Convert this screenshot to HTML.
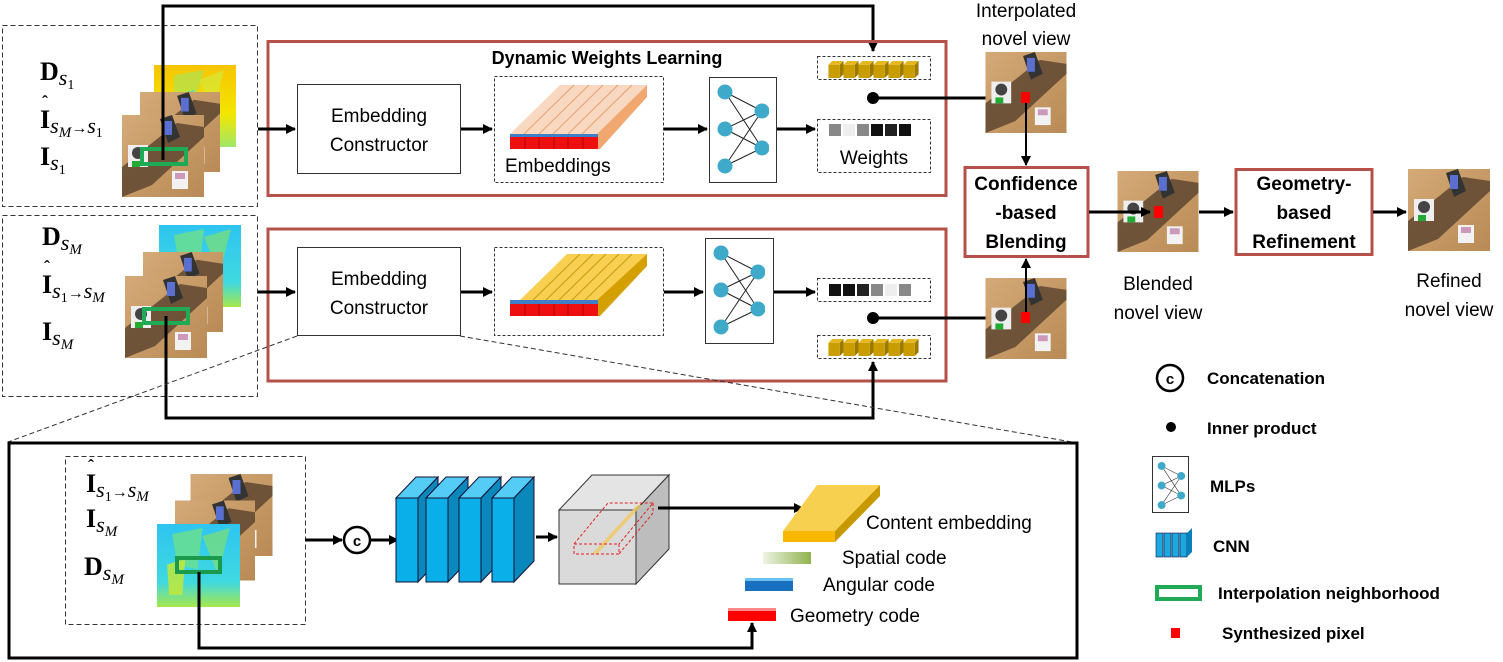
<!DOCTYPE html>
<html><head><meta charset="utf-8"><style>
html,body{margin:0;padding:0;background:#fff;}
svg{display:block;}
text{font-family:"Liberation Sans",sans-serif;}
.m text{font-family:"Liberation Serif",serif;}
</style></head><body>
<svg width="1503" height="662" viewBox="0 0 1503 662" xmlns="http://www.w3.org/2000/svg">
<defs>
<marker id="ah" markerWidth="10" markerHeight="10" refX="9" refY="5" orient="auto" markerUnits="userSpaceOnUse"><path d="M0,0 L10,5 L0,10 z" fill="#000"/></marker>
<linearGradient id="wood" x1="0" y1="0" x2="1" y2="1"><stop offset="0" stop-color="#d4aa78"/><stop offset="1" stop-color="#b98a55"/></linearGradient>
<linearGradient id="dy" x1="0" y1="0" x2="0" y2="1"><stop offset="0" stop-color="#f7c400"/><stop offset="0.6" stop-color="#f2e600"/><stop offset="1" stop-color="#9fe86a"/></linearGradient>
<linearGradient id="dc" x1="0" y1="0" x2="0" y2="1"><stop offset="0" stop-color="#2ec4f0"/><stop offset="0.7" stop-color="#3fd9e0"/><stop offset="1" stop-color="#a5e84a"/></linearGradient>
<linearGradient id="sp" x1="0" y1="0" x2="1" y2="0"><stop offset="0" stop-color="#eef4e4"/><stop offset="1" stop-color="#8fb24e"/></linearGradient>
<symbol id="photo" viewBox="0 0 82 82">
<rect width="82" height="82" fill="url(#wood)"/>
<polygon points="0,52 55,8 82,12 82,22 30,70 0,82" fill="#5e4630" opacity="0.85"/>
<polygon points="38,4 50,0 58,22 46,28" fill="#333"/>
<rect x="42" y="6" width="8" height="14" fill="#5a6fd0"/>
<rect x="6" y="30" width="20" height="22" fill="#eee"/>
<circle cx="16" cy="38" r="6" fill="#444"/>
<rect x="10" y="46" width="8" height="6" fill="#2a3"/>
<rect x="50" y="56" width="16" height="18" fill="#f2f2f2"/>
<rect x="53" y="58" width="10" height="6" fill="#c9b"/>
</symbol>
<symbol id="depthY" viewBox="0 0 82 82">
<rect width="82" height="82" fill="url(#dy)"/>
<polygon points="20,10 50,5 40,40 20,35" fill="#b8e04a" opacity="0.8"/>
<polygon points="45,15 70,5 60,45" fill="#d6e83a" opacity="0.7"/>
<polygon points="25,30 40,25 38,45" fill="#40e0d0"/>
</symbol>
<symbol id="depthC" viewBox="0 0 82 82">
<rect width="82" height="82" fill="url(#dc)"/>
<polygon points="15,10 45,4 40,45 20,40" fill="#6ee08a" opacity="0.8"/>
<polygon points="45,12 72,4 60,50" fill="#7fe070" opacity="0.7"/>
<polygon points="10,40 28,35 25,70 12,70" fill="#c8e830" opacity="0.8"/>
</symbol>
<symbol id="gcube" viewBox="0 0 16 18"><polygon points="0,4 4,0 16,0 12,4" fill="#e6b820"/><polygon points="12,4 16,0 16,14 12,18" fill="#9c7a00"/><rect x="0" y="4" width="12" height="14" fill="#c99c00"/></symbol>
<symbol id="mlp" viewBox="0 0 60 104">
<g stroke="#222" stroke-width="1" fill="none">
<line x1="16" y1="15" x2="53" y2="34"/><line x1="16" y1="15" x2="53" y2="71"/>
<line x1="16" y1="52" x2="53" y2="34"/><line x1="16" y1="52" x2="53" y2="71"/>
<line x1="16" y1="89" x2="53" y2="34"/><line x1="16" y1="89" x2="53" y2="71"/></g>
<g fill="#3fa9c9"><circle cx="16" cy="15" r="7.5"/><circle cx="16" cy="52" r="7.5"/><circle cx="16" cy="89" r="7.5"/><circle cx="53" cy="34" r="7.5"/><circle cx="53" cy="71" r="7.5"/></g>
</symbol>
</defs>

<polyline points="163,148 163,6 873,6 873,51" fill="none" stroke="#000" stroke-width="3" marker-end="url(#ah)"/>

<rect x="2.5" y="25.5" width="255" height="181" fill="none" stroke="#333" stroke-dasharray="5,3"/>
<rect x="2.5" y="215.5" width="255" height="181" fill="none" stroke="#333" stroke-dasharray="5,3"/>

<use href="#depthY" x="154" y="65" width="82" height="82"/>
<use href="#photo" x="140" y="91" width="80" height="82"/>
<use href="#photo" x="122" y="115" width="82" height="82"/>
<rect x="142" y="149" width="44" height="15" fill="none" stroke="#1faa55" stroke-width="4"/>
<line x1="163" y1="6" x2="163" y2="160" stroke="#000" stroke-width="3"/>

<use href="#depthC" x="159" y="225" width="82" height="82"/>
<use href="#photo" x="143" y="251" width="80" height="82"/>
<use href="#photo" x="125" y="276" width="82" height="82"/>
<rect x="144" y="309" width="44" height="14" fill="none" stroke="#1faa55" stroke-width="4"/>

<g class="m" font-weight="bold" font-size="26">
<text x="40" y="80">D<tspan font-weight="normal" font-style="italic" font-size="22" dy="5">s</tspan><tspan font-weight="normal" font-size="14" dy="4">1</tspan></text>
<text x="40" y="128">I<tspan font-weight="normal" font-style="italic" font-size="22" dy="5">s</tspan><tspan font-weight="normal" font-style="italic" font-size="15" dy="4">M</tspan><tspan font-weight="normal" font-size="16" dy="-4">→</tspan><tspan font-weight="normal" font-style="italic" font-size="22">s</tspan><tspan font-weight="normal" font-size="14" dy="4">1</tspan></text>
<text x="42" y="108" font-size="18">ˆ</text>
<text x="40" y="165">I<tspan font-weight="normal" font-style="italic" font-size="22" dy="5">s</tspan><tspan font-weight="normal" font-size="14" dy="4">1</tspan></text>
<text x="42" y="245">D<tspan font-weight="normal" font-style="italic" font-size="22" dy="5">s</tspan><tspan font-weight="normal" font-style="italic" font-size="15" dy="4">M</tspan></text>
<text x="42" y="293">I<tspan font-weight="normal" font-style="italic" font-size="22" dy="5">s</tspan><tspan font-weight="normal" font-size="14" dy="4">1</tspan><tspan font-weight="normal" font-size="16" dy="-4">→</tspan><tspan font-weight="normal" font-style="italic" font-size="22">s</tspan><tspan font-weight="normal" font-style="italic" font-size="15" dy="4">M</tspan></text>
<text x="44" y="273" font-size="18">ˆ</text>
<text x="42" y="340">I<tspan font-weight="normal" font-style="italic" font-size="22" dy="5">s</tspan><tspan font-weight="normal" font-style="italic" font-size="15" dy="4">M</tspan></text>
</g>

<rect x="268" y="41.5" width="678" height="154" fill="none" stroke="#b5504a" stroke-width="3"/>
<rect x="268" y="229" width="678" height="152" fill="none" stroke="#b5504a" stroke-width="3"/>
<text x="607" y="64" font-size="18" font-weight="bold" text-anchor="middle">Dynamic Weights Learning</text>

<line x1="258" y1="129" x2="295" y2="129" stroke="#000" stroke-width="3" marker-end="url(#ah)"/>
<rect x="297.5" y="84.5" width="163" height="89" fill="#fff" stroke="#333"/>
<text x="379" y="122" font-size="19" text-anchor="middle">Embedding</text>
<text x="379" y="151" font-size="19" text-anchor="middle">Constructor</text>
<line x1="461" y1="129" x2="492" y2="129" stroke="#000" stroke-width="3" marker-end="url(#ah)"/>
<rect x="494.5" y="76.5" width="169" height="106" fill="none" stroke="#333" stroke-dasharray="3,2"/>
<polygon points="510,134 597,134 647,85 560,85" fill="#f8d8c0"/>
<g stroke="#e8a070" stroke-width="1"><line x1="524" y1="134" x2="574" y2="85"/><line x1="539" y1="134" x2="589" y2="85"/><line x1="553" y1="134" x2="603" y2="85"/><line x1="568" y1="134" x2="618" y2="85"/><line x1="582" y1="134" x2="632" y2="85"/></g>
<polygon points="597,134 647,85 647,97 600,149 597,149" fill="#f0a870"/>
<rect x="510" y="134" width="88" height="4" fill="#3f7fc8"/>
<rect x="510" y="137" width="88" height="12" fill="#ee1010"/>
<g stroke="#b00" stroke-width="1"><line x1="525" y1="137" x2="525" y2="149"/><line x1="539" y1="137" x2="539" y2="149"/><line x1="554" y1="137" x2="554" y2="149"/><line x1="568" y1="137" x2="568" y2="149"/><line x1="583" y1="137" x2="583" y2="149"/></g>
<text x="505" y="172" font-size="19">Embeddings</text>
<line x1="664" y1="129" x2="707" y2="129" stroke="#000" stroke-width="3" marker-end="url(#ah)"/>
<rect x="709.5" y="77.5" width="67" height="105" fill="#fff" stroke="#333"/>
<use href="#mlp" x="709" y="77" width="60" height="104"/>
<line x1="777" y1="129" x2="815" y2="129" stroke="#000" stroke-width="3" marker-end="url(#ah)"/>
<rect x="817.5" y="56.5" width="113" height="23" fill="none" stroke="#333" stroke-dasharray="3,2"/>
<g><use href="#gcube" x="828" y="61" width="16" height="17"/><use href="#gcube" x="843" y="61" width="16" height="17"/><use href="#gcube" x="858" y="61" width="16" height="17"/><use href="#gcube" x="873" y="61" width="16" height="17"/><use href="#gcube" x="888" y="61" width="16" height="17"/><use href="#gcube" x="903" y="61" width="16" height="17"/></g>
<rect x="817.5" y="119.5" width="113" height="53" fill="none" stroke="#333" stroke-dasharray="3,2"/>
<rect x="829" y="124" width="12" height="12" fill="#888"/><rect x="843" y="124" width="12" height="12" fill="#eee"/><rect x="857" y="124" width="12" height="12" fill="#888"/><rect x="871" y="124" width="12" height="12" fill="#111"/><rect x="885" y="124" width="12" height="12" fill="#222"/><rect x="899" y="124" width="12" height="12" fill="#111"/>
<text x="874" y="164" font-size="19" text-anchor="middle">Weights</text>
<circle cx="873" cy="98" r="6" fill="#000"/>
<line x1="873" y1="98" x2="1020" y2="98" stroke="#000" stroke-width="3" marker-end="url(#ah)"/>

<line x1="258" y1="292" x2="295" y2="292" stroke="#000" stroke-width="3" marker-end="url(#ah)"/>
<rect x="297.5" y="247.5" width="163" height="88" fill="#fff" stroke="#333"/>
<text x="379" y="285" font-size="19" text-anchor="middle">Embedding</text>
<text x="379" y="314" font-size="19" text-anchor="middle">Constructor</text>
<line x1="461" y1="292" x2="492" y2="292" stroke="#000" stroke-width="3" marker-end="url(#ah)"/>
<rect x="494.5" y="247.5" width="169" height="88" fill="none" stroke="#333" stroke-dasharray="3,2"/>
<polygon points="520,300 597,300 647,254 567,254" fill="#f8cf50"/>
<g stroke="#c89a10" stroke-width="1"><line x1="533" y1="300" x2="580" y2="254"/><line x1="546" y1="300" x2="593" y2="254"/><line x1="559" y1="300" x2="606" y2="254"/><line x1="572" y1="300" x2="619" y2="254"/><line x1="585" y1="300" x2="632" y2="254"/></g>
<polygon points="597,300 647,254 647,266 600,316 597,316" fill="#d4a000"/>
<rect x="510" y="300" width="88" height="4" fill="#3f7fc8"/>
<rect x="510" y="304" width="88" height="12" fill="#ee1010"/>
<g stroke="#b00" stroke-width="1"><line x1="525" y1="304" x2="525" y2="316"/><line x1="539" y1="304" x2="539" y2="316"/><line x1="554" y1="304" x2="554" y2="316"/><line x1="568" y1="304" x2="568" y2="316"/><line x1="583" y1="304" x2="583" y2="316"/></g>
<line x1="664" y1="292" x2="703" y2="292" stroke="#000" stroke-width="3" marker-end="url(#ah)"/>
<rect x="705.5" y="238.5" width="68" height="105" fill="#fff" stroke="#333"/>
<use href="#mlp" x="705" y="238" width="60" height="104"/>
<line x1="774" y1="292" x2="815" y2="292" stroke="#000" stroke-width="3" marker-end="url(#ah)"/>
<rect x="817.5" y="278.5" width="113" height="23" fill="none" stroke="#333" stroke-dasharray="3,2"/>
<rect x="829" y="284" width="12" height="12" fill="#111"/><rect x="843" y="284" width="12" height="12" fill="#111"/><rect x="857" y="284" width="12" height="12" fill="#222"/><rect x="871" y="284" width="12" height="12" fill="#888"/><rect x="885" y="284" width="12" height="12" fill="#eee"/><rect x="899" y="284" width="12" height="12" fill="#888"/>
<rect x="817.5" y="335.5" width="113" height="23" fill="none" stroke="#333" stroke-dasharray="3,2"/>
<g><use href="#gcube" x="828" y="339" width="16" height="17"/><use href="#gcube" x="843" y="339" width="16" height="17"/><use href="#gcube" x="858" y="339" width="16" height="17"/><use href="#gcube" x="873" y="339" width="16" height="17"/><use href="#gcube" x="888" y="339" width="16" height="17"/><use href="#gcube" x="903" y="339" width="16" height="17"/></g>
<circle cx="873" cy="318" r="6" fill="#000"/>
<line x1="873" y1="318" x2="1020" y2="318" stroke="#000" stroke-width="3" marker-end="url(#ah)"/>
<polyline points="166,316 166,418 873,418 873,362" fill="none" stroke="#000" stroke-width="3" marker-end="url(#ah)"/>

<line x1="297" y1="336" x2="8" y2="442" stroke="#333" stroke-dasharray="5,3"/>
<line x1="460" y1="336" x2="1072" y2="442" stroke="#333" stroke-dasharray="5,3"/>

<text x="1026" y="17" font-size="19" text-anchor="middle">Interpolated</text>
<text x="1026" y="45" font-size="19" text-anchor="middle">novel view</text>
<use href="#photo" x="985" y="52" width="82" height="81"/>
<use href="#photo" x="985" y="278" width="82" height="81"/>
<line x1="1026" y1="98" x2="1026" y2="165" stroke="#000" stroke-width="2" marker-end="url(#ah)"/>
<line x1="1026" y1="318" x2="1026" y2="259" stroke="#000" stroke-width="2" marker-end="url(#ah)"/>
<rect x="1021" y="92" width="9" height="11" fill="#f00"/>
<rect x="1021" y="312" width="9" height="11" fill="#f00"/>
<rect x="965" y="167.5" width="123" height="89" fill="#fff" stroke="#b5504a" stroke-width="3"/>
<g font-size="19" font-weight="bold" text-anchor="middle"><text x="1026" y="190">Confidence</text><text x="1026" y="219">-based</text><text x="1026" y="248">Blending</text></g>
<use href="#photo" x="1117" y="171" width="82" height="81"/>
<line x1="1089" y1="212" x2="1150" y2="212" stroke="#000" stroke-width="3" marker-end="url(#ah)"/>
<rect x="1154" y="206" width="9" height="12" fill="#f00"/>
<line x1="1199" y1="212" x2="1233" y2="212" stroke="#000" stroke-width="3" marker-end="url(#ah)"/>
<rect x="1236" y="169.5" width="136" height="85" fill="#fff" stroke="#b5504a" stroke-width="3"/>
<g font-size="19" font-weight="bold" text-anchor="middle"><text x="1304" y="190">Geometry-</text><text x="1304" y="219">based</text><text x="1304" y="248">Refinement</text></g>
<line x1="1373" y1="212" x2="1406" y2="212" stroke="#000" stroke-width="3" marker-end="url(#ah)"/>
<use href="#photo" x="1408" y="169" width="82" height="82"/>
<text x="1158" y="290" font-size="19" text-anchor="middle">Blended</text>
<text x="1158" y="319" font-size="19" text-anchor="middle">novel view</text>
<text x="1449" y="287" font-size="19" text-anchor="middle">Refined</text>
<text x="1449" y="316" font-size="19" text-anchor="middle">novel view</text>

<circle cx="1170" cy="378" r="13" fill="#fff" stroke="#000" stroke-width="2.5"/>
<text x="1170" y="384" font-size="15" font-weight="bold" text-anchor="middle">c</text>
<g font-size="17" font-weight="bold">
<text x="1207" y="384">Concatenation</text>
<text x="1207" y="434">Inner product</text>
<text x="1210" y="492">MLPs</text>
<text x="1213" y="552">CNN</text>
<text x="1218" y="599">Interpolation neighborhood</text>
<text x="1222" y="639">Synthesized pixel</text>
</g>
<circle cx="1171" cy="427" r="5" fill="#000"/>
<rect x="1152.5" y="456.5" width="36" height="56" fill="#fff" stroke="#333"/>
<use href="#mlp" x="1153" y="458" width="32" height="55"/>
<g fill="#1ba8e0" stroke="#114" stroke-width="0.6">
<rect x="1156" y="533" width="7" height="24"/><rect x="1164" y="533" width="7" height="24"/><rect x="1172" y="533" width="7" height="24"/><rect x="1180" y="533" width="7" height="24"/></g>
<polygon points="1187,533 1192,528 1192,552 1187,557" fill="#0a80b8"/>
<rect x="1157" y="587" width="43" height="12" fill="none" stroke="#1faa55" stroke-width="4"/>
<rect x="1171" y="628" width="9" height="10" fill="#f00"/>

<rect x="9" y="443" width="1068" height="215" fill="none" stroke="#000" stroke-width="3"/>
<rect x="65.5" y="456.5" width="240" height="168" fill="none" stroke="#333" stroke-dasharray="5,3"/>
<use href="#photo" x="190" y="474" width="83" height="82"/>
<use href="#photo" x="175" y="499" width="80" height="83"/>
<use href="#depthC" x="157" y="524" width="83" height="83"/>
<rect x="177" y="558" width="43" height="14" fill="none" stroke="#1a9a4a" stroke-width="4"/>
<g class="m" font-weight="bold" font-size="26">
<text x="86" y="492">I<tspan font-weight="normal" font-style="italic" font-size="22" dy="5">s</tspan><tspan font-weight="normal" font-size="14" dy="4">1</tspan><tspan font-weight="normal" font-size="16" dy="-4">→</tspan><tspan font-weight="normal" font-style="italic" font-size="22">s</tspan><tspan font-weight="normal" font-style="italic" font-size="15" dy="4">M</tspan></text>
<text x="88" y="472" font-size="18">ˆ</text>
<text x="86" y="527">I<tspan font-weight="normal" font-style="italic" font-size="22" dy="5">s</tspan><tspan font-weight="normal" font-style="italic" font-size="15" dy="4">M</tspan></text>
<text x="84" y="575">D<tspan font-weight="normal" font-style="italic" font-size="22" dy="5">s</tspan><tspan font-weight="normal" font-style="italic" font-size="15" dy="4">M</tspan></text>
</g>
<line x1="305" y1="540" x2="342" y2="540" stroke="#000" stroke-width="3" marker-end="url(#ah)"/>
<circle cx="357" cy="540" r="13" fill="#fff" stroke="#000" stroke-width="2.5"/>
<text x="357" y="546" font-size="15" font-weight="bold" text-anchor="middle">c</text>
<line x1="370" y1="540" x2="398" y2="540" stroke="#000" stroke-width="3" marker-end="url(#ah)"/>
<g stroke="#113" stroke-width="1">
<g><polygon points="396,498 416,477 438,477 418,498" fill="#55ccf5"/><polygon points="418,498 438,477 438,561 418,582" fill="#0a88bb"/><rect x="396" y="498" width="22" height="84" fill="#0aaee8"/></g>
<g><polygon points="426,498 446,477 468,477 448,498" fill="#55ccf5"/><polygon points="448,498 468,477 468,561 448,582" fill="#0a88bb"/><rect x="426" y="498" width="22" height="84" fill="#0aaee8"/></g>
<g><polygon points="459,498 479,477 501,477 481,498" fill="#55ccf5"/><polygon points="481,498 501,477 501,561 481,582" fill="#0a88bb"/><rect x="459" y="498" width="22" height="84" fill="#0aaee8"/></g>
<g><polygon points="492,498 512,477 534,477 514,498" fill="#55ccf5"/><polygon points="514,498 534,477 534,561 514,582" fill="#0a88bb"/><rect x="492" y="498" width="22" height="84" fill="#0aaee8"/></g>
</g>
<line x1="536" y1="537" x2="557" y2="537" stroke="#000" stroke-width="3" marker-end="url(#ah)"/>
<g stroke="#333" stroke-width="1">
<polygon points="559,510 592,475 669,475 636,510" fill="#e4e4e4"/>
<polygon points="636,510 669,475 669,549 636,584" fill="#bdbdbd"/>
<rect x="559" y="510" width="77" height="74" fill="#dadada"/>
</g>
<polygon points="592,554 637,505 642,505 597,554" fill="#f0c860" opacity="0.8"/>
<g fill="none" stroke="#e02020" stroke-dasharray="3,2"><rect x="574" y="544" width="45" height="10"/><polyline points="574,544 608,503 653,503 619,544"/><polyline points="653,503 653,513 619,554"/></g>
<line x1="658" y1="508" x2="803" y2="508" stroke="#000" stroke-width="3" marker-end="url(#ah)"/>
<polygon points="783,531 817,485 880,485 835,531" fill="#f8d050"/>
<polygon points="835,531 880,485 880,496 835,542" fill="#c89800"/>
<rect x="783" y="531" width="52" height="11" fill="#f8b800"/>
<rect x="763" y="552" width="48" height="12" fill="url(#sp)"/>
<rect x="745" y="578" width="48" height="13" fill="#1a70c0"/><rect x="745" y="578" width="48" height="3" fill="#6ac0f0"/>
<rect x="728" y="608" width="48" height="13" fill="#f00"/><rect x="728" y="608" width="48" height="3" fill="#f88"/>
<g font-size="19">
<text x="866" y="529">Content embedding</text>
<text x="842" y="564">Spatial code</text>
<text x="823" y="591">Angular code</text>
<text x="790" y="622">Geometry code</text>
</g>
<polyline points="199,572 199,648 752,648 752,623" fill="none" stroke="#000" stroke-width="3" marker-end="url(#ah)"/>
</svg>
</body></html>
